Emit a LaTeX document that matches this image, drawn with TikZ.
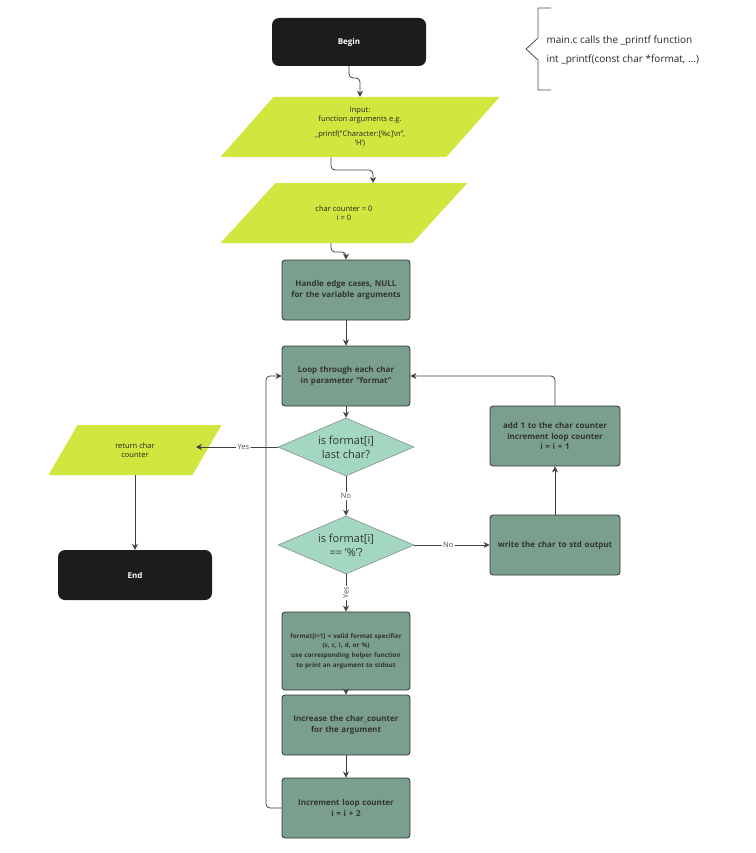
\documentclass[tikz,border=0pt]{standalone}
\usepackage{fontspec}
\setmainfont{Open Sans}
\usetikzlibrary{shapes.geometric,arrows.meta}
\definecolor{boxgreen}{HTML}{7A9F8D}
\definecolor{lime}{HTML}{D1E63E}
\definecolor{mint}{HTML}{A3D7C2}
\definecolor{nearblack}{HTML}{1C1C1C}
\tikzset{
  flow/.style={-{Stealth[length=6pt,width=6pt]}, draw=black!75, line width=0.8pt, rounded corners=4pt},
  term/.style={rectangle, rounded corners=7pt, fill=nearblack, text=white, font=\fontsize{8}{10}\selectfont\bfseries, minimum width=154pt, minimum height=48pt},
  procbox/.style={rectangle, rounded corners=3pt, fill=boxgreen, draw=black!80, line width=0.8pt, text=black!80, align=center, font=\fontsize{8}{10.5}\selectfont\bfseries, minimum width=128pt, minimum height=60pt, text width=118pt},
  test/.style={diamond, aspect=2.35, fill=mint, draw=black!45, line width=0.6pt, align=center, inner sep=1pt, font=\fontsize{11}{14}\selectfont, text=black!80, minimum width=136pt, minimum height=58pt},
  inout/.style={font=\fontsize{7.5}{9}\selectfont, align=center, text=black!85},
  lbl/.style={font=\fontsize{7.5}{9}\selectfont, text=black!70, fill=white, inner sep=1.5pt}
}
% parallelogramm: Name, Mitte x, Mitte y, Breite, Hoehe, Versatz, Text
\newcommand{\para}[7]{%
  \fill[lime] (#2-#4/2+#6/2,#3-#5/2) -- (#2+#4/2+#6/2,#3-#5/2) -- (#2+#4/2-#6/2,#3+#5/2) -- (#2-#4/2-#6/2,#3+#5/2) -- cycle;
  \node[inout, minimum width=#4-#6, minimum height=#5] (#1) at (#2,#3) {#7};}
\begin{document}
\begin{tikzpicture}[x=1pt, y=-1pt]
\useasboundingbox (0,0) rectangle (755,853);

% Start und Eingaben
\node[term] (begin) at (349,42) {Begin};
\para{input}{360}{127}{226}{60}{53}{Input:\\function arguments e.g.\\[6pt]\_printf("Character:[\%c]\textbackslash n",\\'H')}
\para{init}{344}{213}{192}{60}{55}{char counter = 0\\i = 0}

% Hauptschleife
\node[procbox] (edge) at (346,290) {Handle edge cases, NULL for the variable arguments};
\node[procbox] (loop) at (346,376) {Loop through each char in parameter "format"};
\node[test] (last) at (346,447) {is format[i]\\last char?};
\node[test] (pct) at (346,545) {is format[i]\\== '\%'?};
\node[procbox, minimum height=78pt, font=\fontsize{6.3}{9.6}\selectfont\bfseries] (spec) at (346,651) {format[i+1] = valid format specifier\\(s, c, i, d, or \%)\\use corresponding helper function to print an argument to stdout};
\node[procbox] (incr) at (346,725) {Increase the char\_counter for the argument};
\node[procbox] (skip) at (346,808) {Increment loop counter\\i = i + 2};
\node[procbox, minimum width=130pt] (write) at (555,545) {write the char to std output};
\node[procbox, minimum width=130pt] (next) at (555,436) {add 1 to the char counter\\increment loop counter\\i = i + 1};

% Ende
\para{ret}{135}{450}{144}{50}{29}{return char\\counter}
\node[term, minimum height=50pt] (end) at (135,575) {End};

% Verbindungen
\draw[flow] (begin.south) -- (349,78) -- (360,78) -- (input.north);
\draw[flow] (331,157) -- (331,170) -- (373,170) -- (373,183);
\draw[flow] (331,243) -- (331,252) -- (346,252) -- (edge.north);
\draw[flow] (edge) -- (loop);
\draw[flow] (loop) -- (last);
\draw[flow] (last.west) -- node[lbl, pos=0.42] {Yes} (196,447);
\draw[flow] (last) -- node[lbl] {No} (pct);
\draw[flow] (pct) -- node[lbl, rotate=90] {Yes} (spec);
\draw[flow] (pct.east) -- node[lbl, pos=0.45] {No} (write.west);
\draw[flow] (write) -- (next);
\draw[flow] (next.north) |- (loop.east);
\draw[flow] (spec) -- (incr);
\draw[flow] (incr) -- (skip);
\draw[flow] (skip.west) -- (266,808) -- (266,376) -- (loop.west);
\draw[flow] (ret.south) -- (end.north);

% Hinweis oben rechts
\draw[black!70, line width=0.8pt] (551,8) -- (538,8) -- (538,38) -- (526,49) -- (538,60) -- (538,90) -- (551,90);
\node[anchor=west, align=left, font=\fontsize{10}{19}\selectfont, text=black!85] (note) at (543,50) {main.c calls the \_printf function\\int \_printf(const char *format, ...)};
\end{tikzpicture}
\end{document}
